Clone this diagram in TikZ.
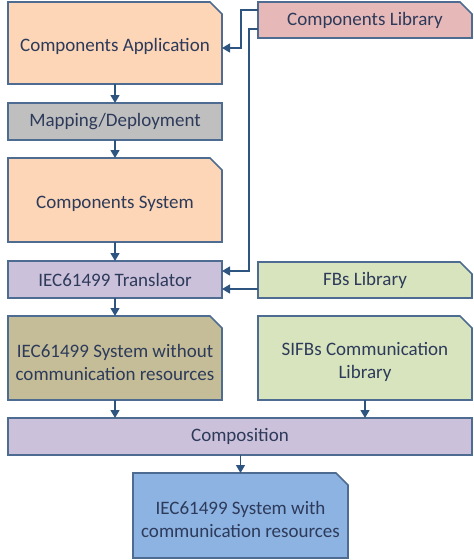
\documentclass[tikz,border=0pt]{standalone}
\usepackage{fontspec}
\setmainfont{Carlito}
\usetikzlibrary{arrows.meta,backgrounds}
\definecolor{bordc}{RGB}{78,108,145}
\definecolor{arrc}{RGB}{46,84,128}
\definecolor{txtc}{RGB}{45,58,90}
\definecolor{peach}{RGB}{252,214,182}
\definecolor{grayf}{RGB}{191,191,191}
\definecolor{lav}{RGB}{204,193,218}
\definecolor{pinkf}{RGB}{230,185,184}
\definecolor{greenf}{RGB}{215,228,189}
\definecolor{olive}{RGB}{196,189,151}
\definecolor{bluef}{RGB}{141,179,226}
\newcommand{\cutbox}[2]{%
  \draw[boxline,fill=#2] (#1.south west) -- (#1.north west) -- ([xshift=-12pt]#1.north east) -- ([yshift=-12pt]#1.north east) -- (#1.south east) -- cycle;}
\newcommand{\flatbox}[2]{%
  \draw[boxline,fill=#2] (#1.south west) rectangle (#1.north east);}
\begin{document}
\begin{tikzpicture}[x=1pt,y=-1pt,
  boxline/.style={draw=bordc,line width=1.6pt},
  lbl/.style={inner sep=0pt,outer sep=0pt,text=txtc,font=\fontsize{19}{23}\selectfont,align=center,anchor=north west},
  lowtxt/.style={text height=21pt},
  multilow/.style={text height=45pt},
  conn/.style={draw=arrc,line width=1.3pt,-{Triangle[length=8pt,width=9pt]}}]
\useasboundingbox (0,0) rectangle (474,560);
\node[lbl,lowtxt,minimum width=214pt,minimum height=82pt] (app) at (8,2) {Components Application};
\node[lbl,minimum width=214pt,minimum height=36pt] (lib) at (258,2) {Components Library};
\node[lbl,minimum width=214pt,minimum height=37pt] (map) at (8,103) {Mapping/Deployment};
\node[lbl,lowtxt,minimum width=214pt,minimum height=84pt] (sys) at (8,158) {Components System};
\node[lbl,minimum width=214pt,minimum height=37pt] (tr) at (8,261) {IEC61499 Translator};
\node[lbl,minimum width=214pt,minimum height=36pt] (fbs) at (258,262) {FBs Library};
\node[lbl,multilow,minimum width=214pt,minimum height=84pt] (wo) at (8,316) {IEC61499 System without\\communication resources};
\node[lbl,multilow,minimum width=214pt,minimum height=84pt] (sifb) at (258,316) {SIFBs Communication\\Library};
\node[lbl,minimum width=464pt,minimum height=37pt] (comp) at (8,418) {Composition};
\node[lbl,multilow,minimum width=215pt,minimum height=85pt] (with) at (133,473) {IEC61499 System with\\communication resources};
\begin{scope}[on background layer]
\cutbox{app}{peach}
\cutbox{lib}{pinkf}
\flatbox{map}{grayf}
\cutbox{sys}{peach}
\flatbox{tr}{lav}
\cutbox{fbs}{greenf}
\cutbox{wo}{olive}
\cutbox{sifb}{greenf}
\flatbox{comp}{lav}
\cutbox{with}{bluef}
\end{scope}
\coordinate (l1a) at (241,10);
\coordinate (l1b) at (241,48);
\coordinate (l2a) at (249,29);
\coordinate (l2b) at (249,271);
\draw[conn] (lib.west |- l1a) -- (l1a) -- (l1b) -- (app.east |- l1b);
\draw[conn] (lib.west |- l2a) -- (l2a) -- (l2b) -- (tr.east |- l2b);
\coordinate (f1) at (0,289);
\draw[conn] (fbs.west |- f1) -- (tr.east |- f1);
\draw[conn] (app.south) -- (map.north);
\draw[conn] (map.south) -- (sys.north);
\draw[conn] (sys.south) -- (tr.north);
\draw[conn] (tr.south) -- (wo.north);
\draw[conn] (wo.south) -- (wo.south |- comp.north);
\draw[conn] (sifb.south) -- (sifb.south |- comp.north);
\draw[conn] (comp.south -| with.north) -- (with.north);
\end{tikzpicture}
\end{document}
